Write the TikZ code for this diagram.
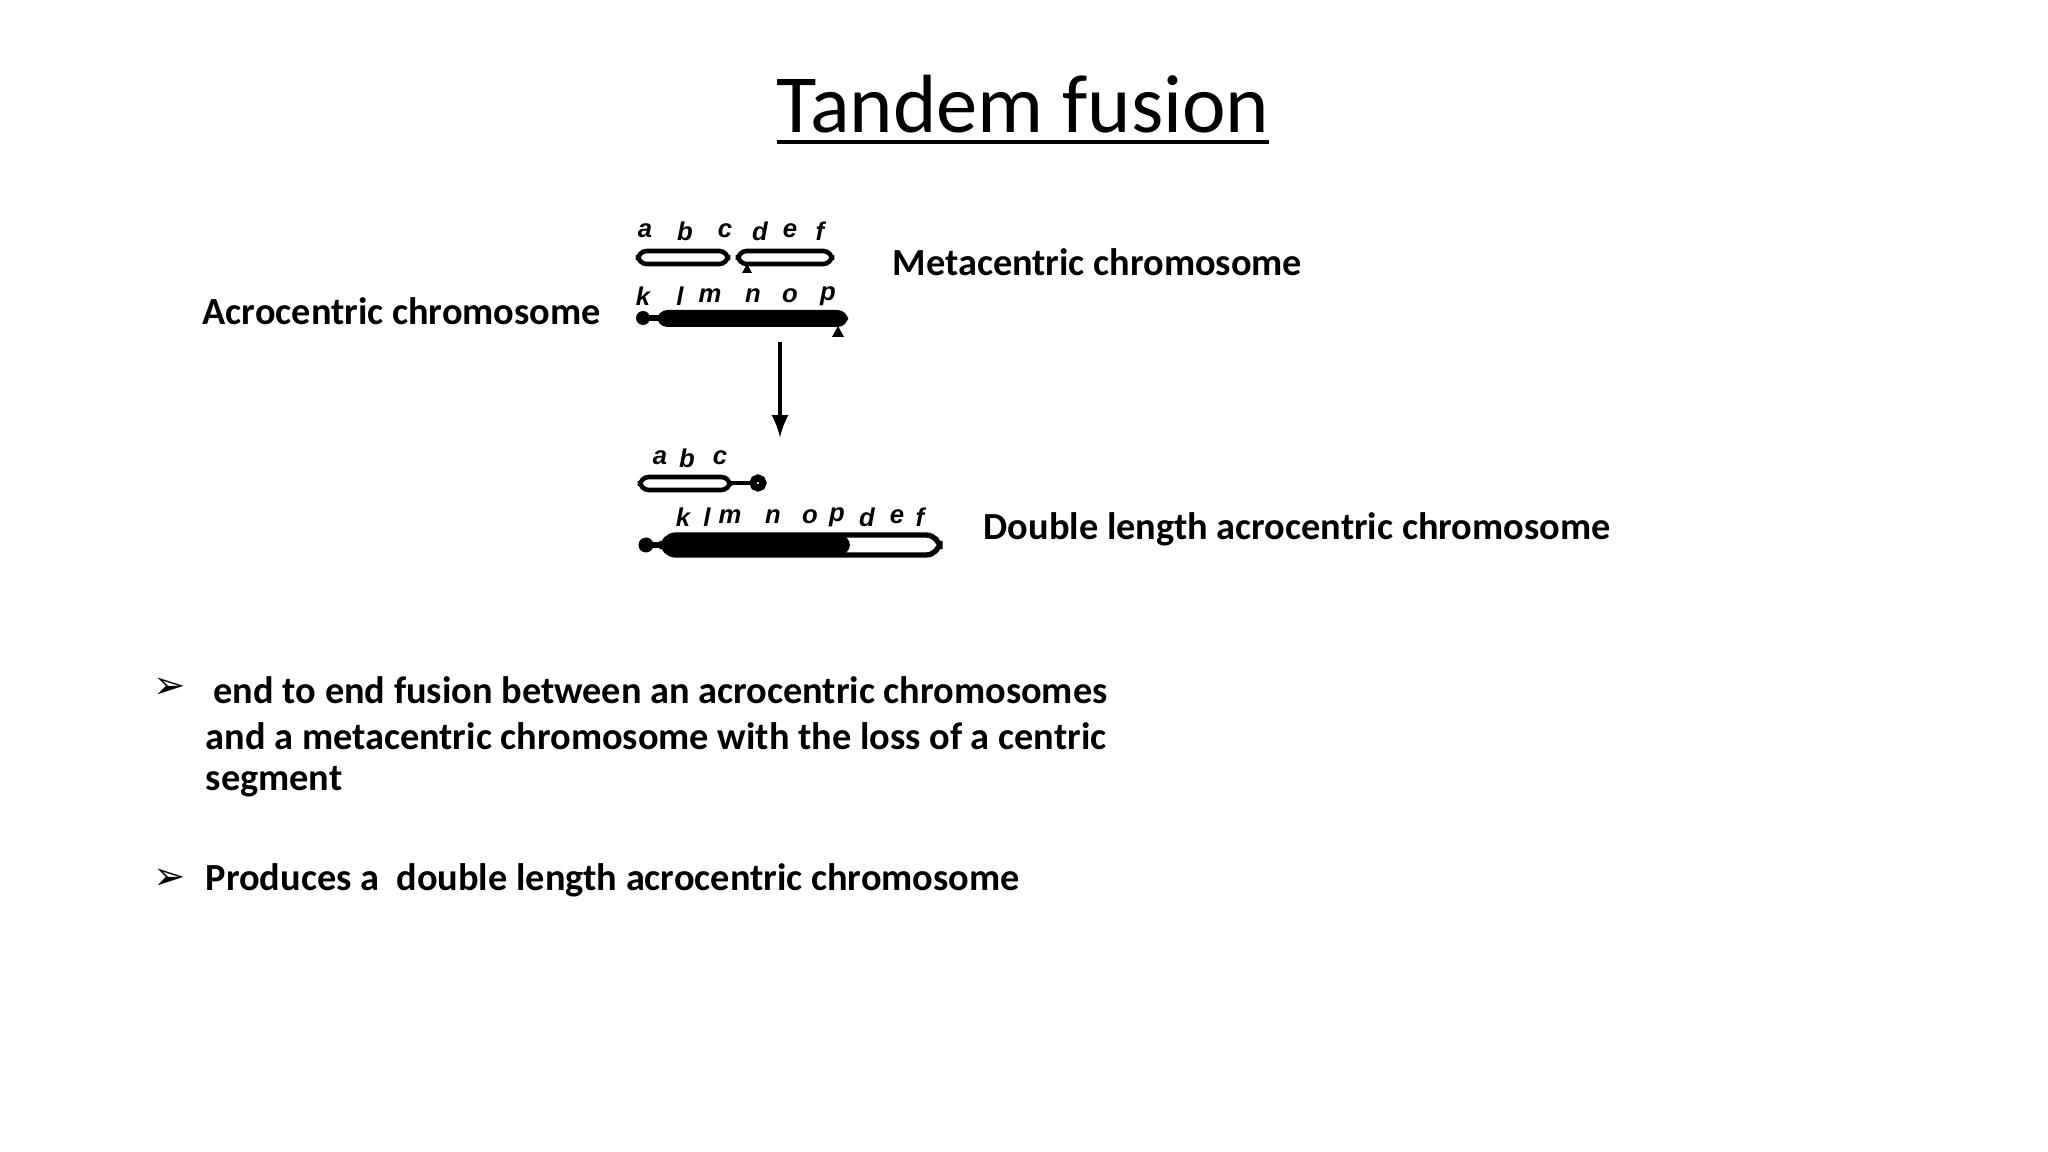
\documentclass[tikz,border=0pt]{standalone}
\usepackage{fontspec}
\setmainfont{Carlito}
\newfontfamily\djv{DejaVu Sans}
\newfontfamily\lett{Liberation Sans}
\begin{document}
\begin{tikzpicture}[x=0.01cm,y=-0.01cm,
  lbl/.style={font=\fontsize{10.9}{13}\selectfont\bfseries,anchor=west,inner sep=0},
  gl/.style={font=\fontsize{7.3}{8}\lett\bfseries\itshape,inner sep=0},
  open/.style={draw=black,line width=1.3pt,fill=white,rounded corners=2.5pt},
  blk/.style={fill=black}]
\useasboundingbox (0,0) rectangle (2048,1152);
\node[inner sep=0,font=\fontsize{23.5}{26}\selectfont] (title) at (1023,104) {Tandem fusion};
\draw[line width=1.1pt] (777,142) -- (1269,142);
% top chromosomes
\foreach \l/\x in {a/645,b/685,c/725,d/760,e/790,f/820} \node[gl] at (\x,231) {\l};
\draw[open] (638,251) rectangle (728,264);
\draw[open] (738,251) rectangle (832,264);
\fill (747,264) -- (742,273) -- (752,273) -- cycle;
\foreach \l/\x in {k/643,l/680,m/710,n/753,o/790,p/828} \node[gl] at (\x,296) {\l};
\fill (643,318) circle (7);
\draw[line width=1.5pt] (643,318) -- (660,318);
\fill[rounded corners=3pt] (657,310) rectangle (848,327);
\fill (838,326) -- (832,337) -- (844,337) -- cycle;
\node[inner sep=0] (top) at (780,340) {};
\node[inner sep=0] (bot) at (780,440) {};
\draw[line width=1.2pt,-latex] (top) -- (bot);
% bottom
\foreach \l/\x in {a/660,b/687,c/720} \node[gl] at (\x,458) {\l};
\draw[open] (640,477) rectangle (730,490);
\draw[line width=1.3pt] (730,483) -- (752,483);
\draw[line width=2pt,fill=white] (758,483) circle (5);
\foreach \l/\x in {k/683,l/707,m/730,n/773,o/810,p/837,d/867,e/897,f/920} \node[gl] at (\x,517) {\l};
\fill (646,545) circle (7.5);
\draw[line width=1.5pt] (646,545) -- (665,545);
\draw[line width=1.5pt,rounded corners=4pt] (662,535) rectangle (940,555);
\fill[rounded corners=3pt] (662,535) -- (662,555) -- (850,555) -- (850,535) -- cycle;
% labels
\node[lbl] (meta) at (892,262) {Metacentric chromosome};
\node[lbl] (acro) at (202,311) {Acrocentric chromosome};
\node[lbl] (dbl) at (983,529) {Double length acrocentric chromosome};
% bullets
\node[inner sep=0,font=\fontsize{11}{12}\djv] (b1) at (170,688) {➢};
\node[inner sep=0,font=\fontsize{11}{12}\djv] (b2) at (170,879) {➢};
\node[lbl] (t1) at (213,690) {end to end fusion between an acrocentric chromosomes};
\node[lbl] (t2) at (205,736) {and a metacentric chromosome with the loss of a centric};
\node[lbl] (t3) at (205,782) {segment};
\node[lbl] (t4) at (205,880) {Produces a\ \ double length acrocentric chromosome};
\end{tikzpicture}
\end{document}
